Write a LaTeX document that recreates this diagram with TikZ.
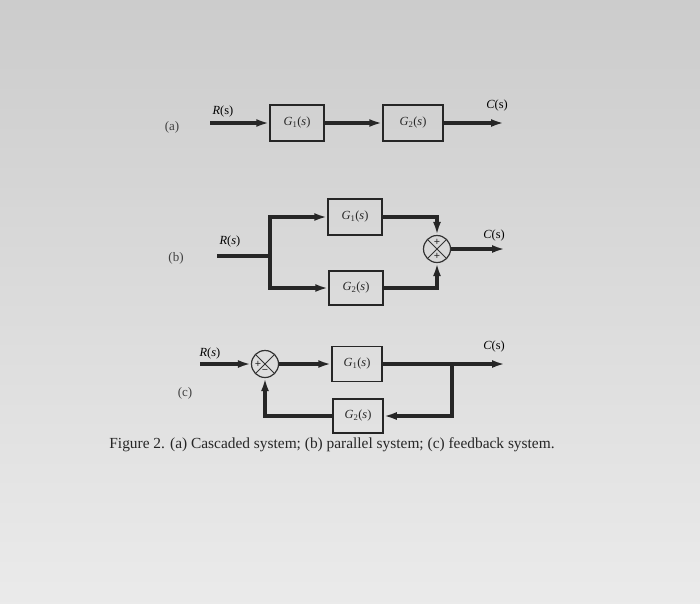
\documentclass[tikz,border=0pt]{standalone}
\usepackage{fontspec}
\setmainfont{Liberation Serif}
\usetikzlibrary{positioning, arrows.meta}
\newcommand{\tfn}[1]{\textit{G}\textsubscript{#1}(\textit{s})}
\tikzset{
  block1/.style = {
    shape = rectangle,
    draw = black!85,
    line width = 1.5pt,
    minimum width = 54pt,
    minimum height = 36pt,
    text = black!85,
  }
}
\tikzset{
  sum1/.style = {
    shape = circle,
    draw = black!80,
    line width = 1.2pt,
    minimum size = 27pt,
    inner sep = 0pt,
    path picture = {
      \draw[line width = 1pt, black!80]
        (path picture bounding box.north west) -- (path picture bounding box.south east)
        (path picture bounding box.north east) -- (path picture bounding box.south west);
    },
  }
}
\tikzset{
  arrow1/.style = {
    draw = black!85, line width = 3.2pt, -{Latex[length = 13pt, width = 8pt]},
  },
  line1/.style = {draw = black!85, line width = 3.2pt},
  tag1/.style = {text = black!75, font = \fontsize{13}{15}\selectfont},
  sign1/.style = {text = black!85, font = \fontsize{11}{11}\selectfont\bfseries, inner sep = 0pt},
}

\begin{document}
\begin{tikzpicture}[x = 1pt, y = -1pt, font = \fontsize{12.4}{14}\selectfont]
        \shade[top color = black!20, bottom color = black!8] (0,0) rectangle (700,603);
        \useasboundingbox (0,0) rectangle (700,603);
        % (a) cascaded
        \node[tag1](ta) at (172,127){(a)};
        \node[block1](g1a) at (297,123){\tfn{1}};
        \node[block1, minimum width = 60pt](g2a) at (413,123){\tfn{2}};
        \coordinate (ra) at (210,123);
        \coordinate (ca) at (504,123);
        \node(lra) at (223,112){\textit{R}(s)};
        \node(lca) at (497,106){\textit{C}(s)};
        \draw[arrow1](ra) -- (g1a);
        \draw[arrow1](g1a) -- (g2a);
        \draw[arrow1](g2a) -- (ca);
        % (b) parallel
        \node[tag1](tb) at (176,258){(b)};
        \node[block1](g1b) at (355,217){\tfn{1}};
        \node[block1, minimum height = 34pt](g2b) at (356,288){\tfn{2}};
        \node[sum1](sb) at (437,249){};
        \node[sign1] at ([yshift = 7pt]sb.center){+};
        \node[sign1] at ([yshift = -7pt]sb.center){+};
        \coordinate (rb) at (217,256);
        \coordinate (kb) at (270,256);
        \coordinate (cb) at (505,249);
        \node(lrb) at (230,242){\textit{R}(\textit{s})};
        \node(lcb) at (494,236){\textit{C}(s)};
        \draw[line1](rb) -- (kb);
        \draw[arrow1](kb) |- (g1b);
        \draw[arrow1](kb) |- (g2b);
        \draw[arrow1](g1b) -| (sb);
        \draw[arrow1](g2b) -| (sb);
        \draw[arrow1](sb) -- (cb);
        % (c) feedback
        \node[tag1](tc) at (185,393){(c)};
        \node[sum1](sc) at (265,364){};
        \node[sign1] at ([xshift = -7pt]sc.center){+};
        \node[sign1] at ([yshift = -7pt]sc.center){\textminus};
        \node[block1, minimum width = 50pt, minimum height = 35pt](g1c) at (357,364){\tfn{1}};
        \node[block1, minimum width = 50pt, minimum height = 34pt](g2c) at (358,416){\tfn{2}};
        \coordinate (rc) at (200,364);
        \coordinate (cc) at (505,364);
        \coordinate (kc) at (452,364);
        \node(lrc) at (210,354){\textit{R}(\textit{s})};
        \node(lcc) at (494,347){\textit{C}(s)};
        \draw[arrow1](rc) -- (sc);
        \draw[arrow1](sc) -- (g1c);
        \draw[arrow1](g1c) -- (cc);
        \draw[arrow1](kc) |- (g2c);
        \draw[arrow1](g2c) -| (sc);
        % caption
        \node[font = \fontsize{15.4}{18}\selectfont, text = black!85](cap) at (332,445){Figure 2. (a) Cascaded system; (b) parallel system; (c) feedback system.};
\end{tikzpicture}
\end{document}
